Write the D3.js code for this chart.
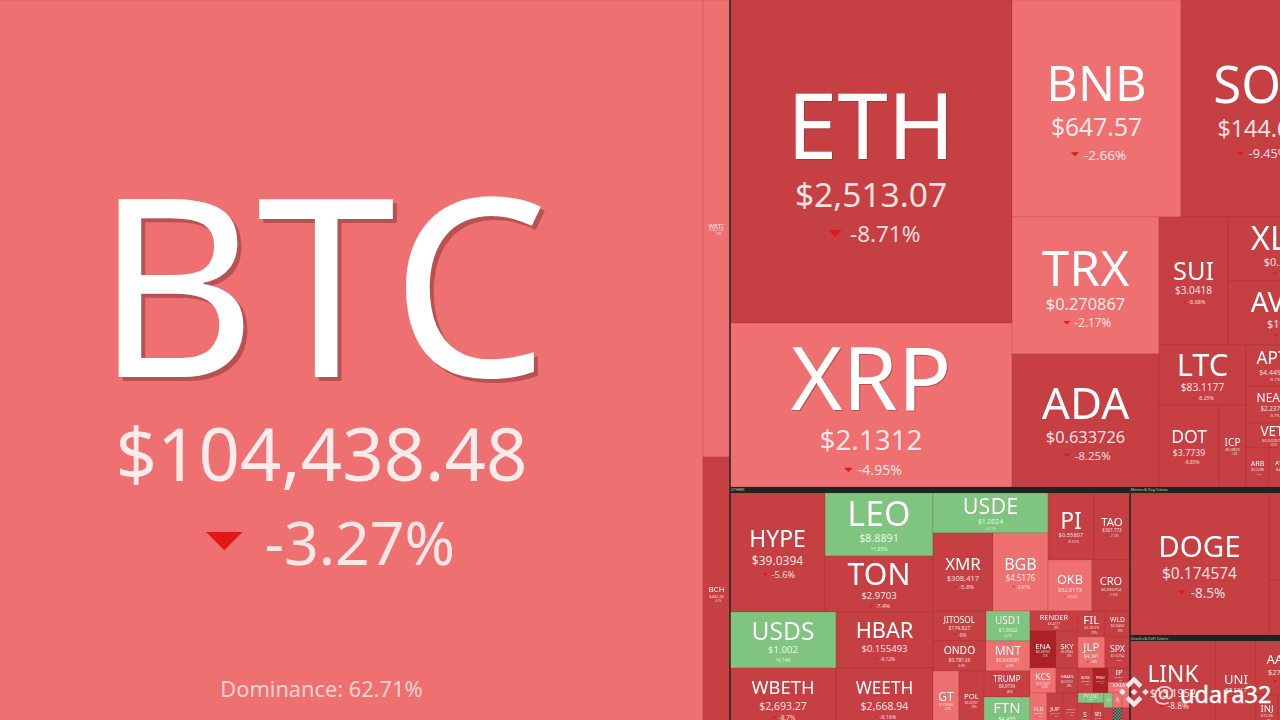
<!DOCTYPE html>
<html>
<head>
<meta charset="utf-8">
<script src="https://cdn.jsdelivr.net/npm/d3@7"></script>
<style>
    html, body { margin: 0; padding: 0; background: #ee7070; overflow: hidden; }
    svg { display: block; font-family: "Noto Sans", sans-serif; }
</style>
</head>
<body>
<svg width="1280" height="720"></svg>
<script>
//coins. caps are relative market caps estimated from tile areas
const symbols = ["BTC", "WBTC", "BCH",
    "ETH", "XRP", "BNB", "SOL", "TRX", "ADA", "SUI", "XLM", "AVAX", "LTC", "DOT", "ICP", "APT", "NEAR", "VET", "ARB", "ATOM", "_a",
    "HYPE", "LEO", "TON", "USDS", "WBETH", "HBAR", "WEETH",
    "USDE", "XMR", "BGB", "PI", "TAO", "OKB", "CRO",
    "JITOSOL", "ONDO", "USD1", "MNT", "GT", "POL", "TRUMP", "FTN",
    "RENDER", "ENA", "SKY", "FIL", "WLD", "JLP", "SPX",
    "KCS", "GRASS", "BONK", "PENGU", "IP", "KAIA",
    "FLR", "JUP", "VIRTUAL", "PYUSD", "S", "SEI", "USDT0", "A", "_b", "_c", "_d", "_e",
    "DOGE", "_f", "_g",
    "LINK", "UNI", "AAVE", "INJ", "_h", "_i"];

const prices = ["$104,438.48", "$104,271.55", "$402.26",
    "$2,513.07", "$2.1312", "$647.57", "$144.62", "$0.270867", "$0.633726", "$3.0418", "$0.2577", "$19.64", "$83.1177", "$3.7739", "$5.0803", "$4.4494", "$2.2373", "$0.022373", "$0.3298", "$4.1152", "",
    "$39.0394", "$8.8891", "$2.9703", "$1.002", "$2,693.27", "$0.155493", "$2,668.94",
    "$1.0024", "$308.417", "$4.5176", "$0.55807", "$367.773", "$52.0173", "$0.090754",
    "$174.827", "$0.78126", "$1.0022", "$0.643091", "$17.5584", "$0.20107", "$9.9734", "$4.455",
    "$3.4177", "$0.28163", "$0.07664", "$2.3579", "$0.9402", "$4.341", "$1.0254",
    "$10.7597", "$2.0312", "$0.0000", "$0.0112", "$3.9814", "$0.1205",
    "$0.0183", "$0.4712", "$1.8125", "$1.0001", "$0.3714", "$0.1702", "$1.0004", "$0.6521", "", "", "", "",
    "$0.174574", "", "",
    "$13.1952", "$7.1217", "$270.42", "$12.06", "", ""];

const changes = [-3.27, -3.3, -6.1,
    -8.71, -4.95, -2.66, -9.45, -2.17, -8.25, -8.68, -6.4, -9.2, -8.25, -8.85, -7.4, -9.1, -9.7, -8.2, -9.3, -8.6, -8,
    -5.6, 1.85, -7.4, 0.14, -8.7, -9.12, -9.16,
    0.17, -5.8, -3.91, -6.97, -7.5, -3.52, -7.5,
    -9, -9.3, 0.1, -4.36, -3.9, -9, -8, 0.9,
    -9, -12, -9, -9, -9, -4, -8.8,
    -3.5, -8, -9, -12, -8, -4,
    -4, -9, -9, 0.02, -9, -9, 0.1, -4, -4, -9, -9, -9,
    -8.5, -8, -8,
    -8.8, -8.5, -9, -9, -8, -8];

const caps = [5570, 123.4, 73.7,
    910.9, 462.5, 366.7, 345, 201.4, 195.5, 88.3, 71.7, 71.7, 52.2, 49.2, 22.1, 21.3, 19.2, 13, 9, 11.3, 59.6,
    113.1, 68, 60.5, 59.4, 65.7, 54.3, 60.1,
    46, 46.8, 42.9, 30.8, 24.1, 22.4, 19.4,
    15.9, 15.9, 13.2, 13.2, 15.3, 14.8, 12, 15.2,
    9.6, 9.6, 8.1, 7, 6.5, 8.4, 7.8,
    6.5, 5.5, 3.75, 3.75, 3.1, 2.4,
    6.3, 5.9, 5.6, 2.6, 3.8, 3.2, 1.35, 1.35, 1.2, 2, 2, 1.8,
    197.4, 61.8, 39.1,
    76.5, 35.6, 28.1, 7.7, 10.5, 28.5];

//section title bars are tiles as well
const sections = ["OTHERS", "Memes & Dog Tokens", "Oracles & DeFi Tokens"];
const sectionCaps = [24, 12.6, 12.6];

//how the tiles nest: "h" splits left to right, "v" splits top to bottom
const nesting = ["h", "BTC", ["v", "WBTC", "BCH"],
    ["v",
        ["h", ["v", "ETH", "XRP"],
            ["v", ["h", "BNB", "SOL"],
                ["h", ["v", "TRX", "ADA"],
                    ["v", ["h", "SUI", ["v", "XLM", "AVAX"]],
                        ["h", ["v", "LTC", ["h", "DOT", "ICP"]],
                            ["v", "APT", "NEAR", "VET", ["h", "ARB", "ATOM"]], "_a"]]]]],
        ["h",
            ["v", "OTHERS",
                ["h",
                    ["v", ["h", "HYPE", ["v", "LEO", "TON"]],
                        ["h", ["v", "USDS", "WBETH"], ["v", "HBAR", "WEETH"]]],
                    ["v",
                        ["h", ["v", "USDE", ["h", "XMR", "BGB"]],
                            ["v", ["h", "PI", "TAO"], ["h", "OKB", "CRO"]]],
                        ["h",
                            ["v", ["h", ["v", "JITOSOL", "ONDO"], ["v", "USD1", "MNT"]],
                                ["h", "GT", "POL", ["v", "TRUMP", "FTN"]]],
                            ["v",
                                ["h", ["v", "RENDER", ["h", "ENA", "SKY"]],
                                    ["v", ["h", "FIL", "WLD"], ["h", "JLP", "SPX"]]],
                                ["v",
                                    ["h", "KCS", "GRASS", "BONK", "PENGU", ["v", "IP", "KAIA"]],
                                    ["h", "FLR", "JUP", "VIRTUAL",
                                        ["v", "PYUSD", ["h", "S", "SEI"]],
                                        ["v", ["h", "USDT0", "A", "_b"], ["h", "_c", "_d", "_e"]]]]]]]]],
            ["v", "Memes & Dog Tokens", ["h", "DOGE", ["v", "_f", "_g"]],
                "Oracles & DeFi Tokens",
                ["h", "LINK", "UNI", ["v", "AAVE", ["h", "INJ", "_h"]], "_i"]]]]];

const dominance = "Dominance: 62.71%";
const noisyTile = "_d";
const dividerStarts = ["ETH", "Memes & Dog Tokens"];

var capOf = new Map(symbols.map((s, i) => [s, caps[i]]));
sections.forEach((s, i) => capOf.set(s, sectionCaps[i]));
var indexOf = new Map(symbols.map((s, i) => [s, i]));


//the full heatmap is wider than the window, so it gets cropped on both sides
const fullWidth = 1400, fullHeight = 730, cropLeft = 60;

var svg = d3.select("svg");

var tileColor = d3.scaleThreshold()
    .domain([-10, -5, 0])
    .range(["#ab2126", "#c53f43", "#ee7070", "#7fc47f"]);

var root = d3.hierarchy(nesting, d => Array.isArray(d) ? d.slice(1) : null)
    .sum(d => Array.isArray(d) ? 0 : capOf.get(d));

d3.treemap()
    .size([fullWidth, fullHeight])
    .tile(function (node, x0, y0, x1, y1) {
        (node.data[0] == "h" ? d3.treemapDice : d3.treemapSlice)(node, x0, y0, x1, y1);
    })(root);

var defs = svg.append("defs");
var noise = defs.append("pattern")
    .attr("id", "noise")
    .attr("width", 3).attr("height", 3)
    .attr("patternUnits", "userSpaceOnUse");
noise.append("rect").attr("width", 3).attr("height", 3).attr("fill", "#25302b");
noise.append("rect").attr("width", 1.5).attr("height", 1.5).attr("fill", "#8fa893");
noise.append("rect").attr("x", 1.5).attr("y", 1.5).attr("width", 1.5).attr("height", 1.5).attr("fill", "#8fa893");

var map = svg.append("g")
    .attr("transform", `translate(${-cropLeft},0)`);

var leaves = root.leaves();
var coins = leaves.filter(d => indexOf.has(d.data));
var bars = leaves.filter(d => !indexOf.has(d.data));

//tiles
map.append("g").selectAll("rect")
    .data(coins)
    .enter().append("rect")
    .attr("x", d => d.x0)
    .attr("y", d => d.y0)
    .attr("width", d => d.x1 - d.x0)
    .attr("height", d => d.y1 - d.y0)
    .attr("fill", d => d.data == noisyTile ? "url(#noise)" : tileColor(changes[indexOf.get(d.data)]))
    .attr("stroke", "#7a1f22")
    .attr("stroke-opacity", 0.22)
    .attr("stroke-width", 0.7);

//section title bars
map.append("g").selectAll("rect")
    .data(bars)
    .enter().append("rect")
    .attr("x", d => d.x0)
    .attr("y", d => d.y0)
    .attr("width", d => d.x1 - d.x0)
    .attr("height", d => d.y1 - d.y0)
    .attr("fill", "#1d2522");

map.append("g").selectAll("text")
    .data(bars)
    .enter().append("text")
    .attr("x", d => d.x0 + 1)
    .attr("y", d => d.y1 - 1.5)
    .attr("font-size", 3.6)
    .attr("fill", "#b9dcae")
    .text(d => d.data);

//dark lines between the big sections
map.append("g").selectAll("line")
    .data(root.descendants().filter(d => d.children && d.parent
        && dividerStarts.includes(d.leaves()[0].data)
        && d.parent.leaves()[0].data != d.leaves()[0].data))
    .enter().append("line")
    .attr("x1", d => d.x0)
    .attr("x2", d => d.x0)
    .attr("y1", d => d.y0)
    .attr("y2", d => d.y1)
    .attr("stroke", "#2b2a2a")
    .attr("stroke-width", 1.6);

//measure text once at 100px to size it to its tile
var probe = svg.append("text").attr("font-size", 100).attr("opacity", 0);
function emWidth(txt) {
    probe.text(txt);
    return probe.node().getComputedTextLength() / 100;
}

const capRatio = 0.714;

function labelTile(d) {
    let i = indexOf.get(d.data);
    if (prices[i] == "") return;

    let w = d.x1 - d.x0, h = d.y1 - d.y0;
    let change = (changes[i] > 0 ? "+" : "") + changes[i] + "%";

    let nameSize = Math.min(0.595 * w / emWidth(symbols[i]), 0.54 * h, 0.5 * w);
    let priceSize = Math.min(0.54 * w / emWidth(prices[i]), 0.17 * h);
    let changeSize = Math.min(0.25 * w, 0.27 * h) / emWidth(change);

    let gap1 = 0.73 * priceSize, gap2 = 0.55 * priceSize;
    let total = capRatio * nameSize + gap1 + capRatio * priceSize + gap2 + capRatio * changeSize;
    let cx = (d.x0 + d.x1) / 2;
    let top = (d.y0 + d.y1) / 2 + 0.045 * total - total / 2;

    let nameY = top + capRatio * nameSize;
    let priceY = nameY + gap1 + capRatio * priceSize;
    let changeY = priceY + gap2 + capRatio * changeSize;

    let g = d3.select(this);

    g.append("text")
        .attr("x", cx).attr("y", nameY)
        .attr("text-anchor", "middle")
        .attr("font-size", nameSize)
        .attr("fill", "#fff")
        .style("filter", `drop-shadow(${nameSize * 0.018}px ${nameSize * 0.018}px 0 rgba(130,50,50,0.5))`)
        .text(symbols[i]);

    g.append("text")
        .attr("x", cx).attr("y", priceY)
        .attr("text-anchor", "middle")
        .attr("font-size", priceSize)
        .attr("fill", "#fff")
        .attr("fill-opacity", 0.85)
        .text(prices[i]);

    //change with the little red arrow in front when it fell
    let changeX = cx + 0.15 * changeSize;
    let triW = 0.6 * changeSize, triH = 0.3 * changeSize, triGap = 0.36 * changeSize;
    let textW = emWidth(change) * changeSize;
    if (changes[i] < 0) {
        let left = changeX - (textW + triW + triGap) / 2;
        let triTop = changeY - capRatio * changeSize * 0.75;
        g.append("path")
            .attr("d", d3.line()([[left, triTop], [left + triW, triTop], [left + triW / 2, triTop + triH]]) + "Z")
            .attr("fill", "#e0181a");
        g.append("text")
            .attr("x", left + triW + triGap).attr("y", changeY)
            .attr("font-size", changeSize)
            .attr("fill", "#fff")
            .attr("fill-opacity", 0.82)
            .text(change);
    } else {
        g.append("text")
            .attr("x", cx).attr("y", changeY)
            .attr("text-anchor", "middle")
            .attr("font-size", changeSize)
            .attr("fill", "#fff")
            .attr("fill-opacity", 0.82)
            .text(change);
    }
}

map.append("g").selectAll("g")
    .data(coins)
    .enter().append("g")
    .each(labelTile);

//dominance line only exists on the biggest tile
var biggest = coins[0];
map.append("text")
    .attr("x", (biggest.x0 + biggest.x1) / 2)
    .attr("y", biggest.y1 - 33)
    .attr("text-anchor", "middle")
    .attr("font-size", 21.8)
    .attr("fill", "#fff")
    .attr("fill-opacity", 0.7)
    .text(dominance);

probe.remove();

//watermark
var mark = svg.append("g").attr("transform", "translate(1134,692) scale(1.2)");
const chevron = "M0,-13 L7,-6 L4.4,-3.4 L0,-7.8 L-4.4,-3.4 L-7,-6 Z";
[0, 180].forEach(a => mark.append("path").attr("d", chevron).attr("transform", `rotate(${a})`).attr("fill", "#fff").attr("fill-opacity", 0.88));
[[0, 0], [-9.6, 0], [9.6, 0]].forEach(p => mark.append("path")
    .attr("d", "M0,-2.8 L2.8,0 L0,2.8 L-2.8,0 Z")
    .attr("transform", `translate(${p[0]},${p[1]})`)
    .attr("fill", "#fff").attr("fill-opacity", 0.88));

svg.append("text")
    .attr("x", 1153).attr("y", 703)
    .attr("font-size", 24)
    .attr("fill", "#fff")
    .attr("fill-opacity", 0.8)
    .text("@");
svg.append("text")
    .attr("x", 1180).attr("y", 703)
    .attr("font-size", 23.5)
    .attr("fill", "#fff")
    .attr("stroke", "#fff")
    .attr("stroke-width", 0.4)
    .text("udara32");
</script>
</body>
</html>
